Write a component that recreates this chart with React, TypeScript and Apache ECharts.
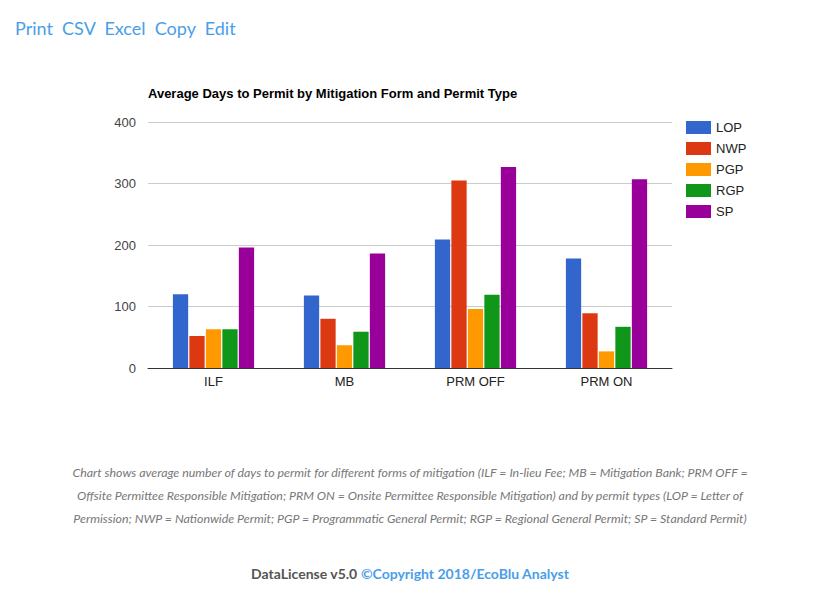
import React, { useEffect, useRef } from "react";
import * as echarts from "echarts";

const categories = ["ILF", "MB", "PRM OFF", "PRM ON"];
const seriesNames = ["LOP", "NWP", "PGP", "RGP", "SP"];
const lopValues = [120, 118, 209, 178];
const nwpValues = [52, 80, 305, 89];
const pgpValues = [63, 37, 96, 27];
const rgpValues = [63, 59, 119, 67];
const spValues = [196, 186, 327, 307];
const yTicks = [0, 100, 200, 300, 400];
const colors = ["#3366cc", "#dc3912", "#ff9900", "#109618", "#990099"];

const captionLines = [
  "Chart shows average number of days to permit for different forms of mitigation (ILF = In-lieu Fee; MB = Mitigation Bank; PRM OFF =",
  "Offsite Permittee Responsible Mitigation; PRM ON = Onsite Permittee Responsible Mitigation) and by permit types (LOP = Letter of",
  "Permission; NWP = Nationwide Permit; PGP = Programmatic General Permit; RGP = Regional General Permit; SP = Standard Permit)",
];
const topLinks = ["Print", "CSV", "Excel", "Copy", "Edit"];

export default function App() {
  const ref = useRef<HTMLDivElement>(null);
  useEffect(() => {
    if (!ref.current) return;
    const chart = echarts.init(ref.current, null, { renderer: "svg" });
    const allValues = [lopValues, nwpValues, pgpValues, rgpValues, spValues];
    chart.setOption({
      animation: false,
      color: colors,
      title: {
        text: "Average Days to Permit by Mitigation Form and Permit Type",
        left: 143,
        top: 82,
        textStyle: { fontFamily: "Liberation Sans", fontWeight: "bold", fontSize: 13, color: "#000" },
      },
      legend: {
        orient: "vertical",
        left: 681,
        top: 116,
        itemWidth: 25,
        itemHeight: 13,
        itemGap: 8,
        icon: "rect",
        textStyle: { fontFamily: "Liberation Sans", fontSize: 13, color: "#222" },
        data: seriesNames,
      },
      grid: { left: 148, right: 147, top: 122, bottom: 225, containLabel: false },
      xAxis: {
        type: "category",
        data: categories,
        axisTick: { show: false },
        axisLine: { lineStyle: { color: "#333", width: 1 } },
        axisLabel: { fontFamily: "Liberation Sans", fontSize: 13, color: "#222", margin: 7 },
      },
      yAxis: {
        type: "value",
        min: yTicks[0],
        max: yTicks[yTicks.length - 1],
        interval: 100,
        axisLine: { show: false },
        axisTick: { show: false },
        splitLine: { lineStyle: { color: "#cccccc" } },
        axisLabel: { fontFamily: "Liberation Sans", fontSize: 13, color: "#444", margin: 12 },
      },
      series: seriesNames.map((name, i) => ({
        name,
        type: "bar",
        data: allValues[i],
        barGap: "8%",
        barCategoryGap: "38%",
        itemStyle: { color: colors[i] },
      })),
      graphic: [
        {
          type: "text",
          left: 15,
          top: 19,
          style: {
            text: topLinks.join("  "),
            fontFamily: "Lato",
            fontSize: 18,
            fill: "#4a9ee8",
          },
        },
        ...captionLines.map((line, i) => ({
          type: "text",
          x: 410,
          y: 472 + i * 23,
          style: {
            text: line,
            fontFamily: "Lato",
            fontStyle: "italic",
            fontSize: 12.4,
            fill: "#777",
            align: "center",
            verticalAlign: "middle",
          },
        })),
        {
          type: "text",
          x: 410,
          y: 573,
          style: {
            text: "{a|DataLicense v5.0 }{b|©Copyright 2018/EcoBlu Analyst}",
            align: "center",
            verticalAlign: "middle",
            rich: {
              a: { fontFamily: "Lato", fontWeight: "bold", fontSize: 14, fill: "#555" },
              b: { fontFamily: "Lato", fontWeight: "bold", fontSize: 14, fill: "#4a9ee8" },
            },
          },
        },
      ],
    });
    return () => chart.dispose();
  }, []);
  return (
    <div
      ref={ref}
      style={{ position: "fixed", left: 0, top: 0, width: 819, height: 593, background: "#fff" }}
    />
  );
}
